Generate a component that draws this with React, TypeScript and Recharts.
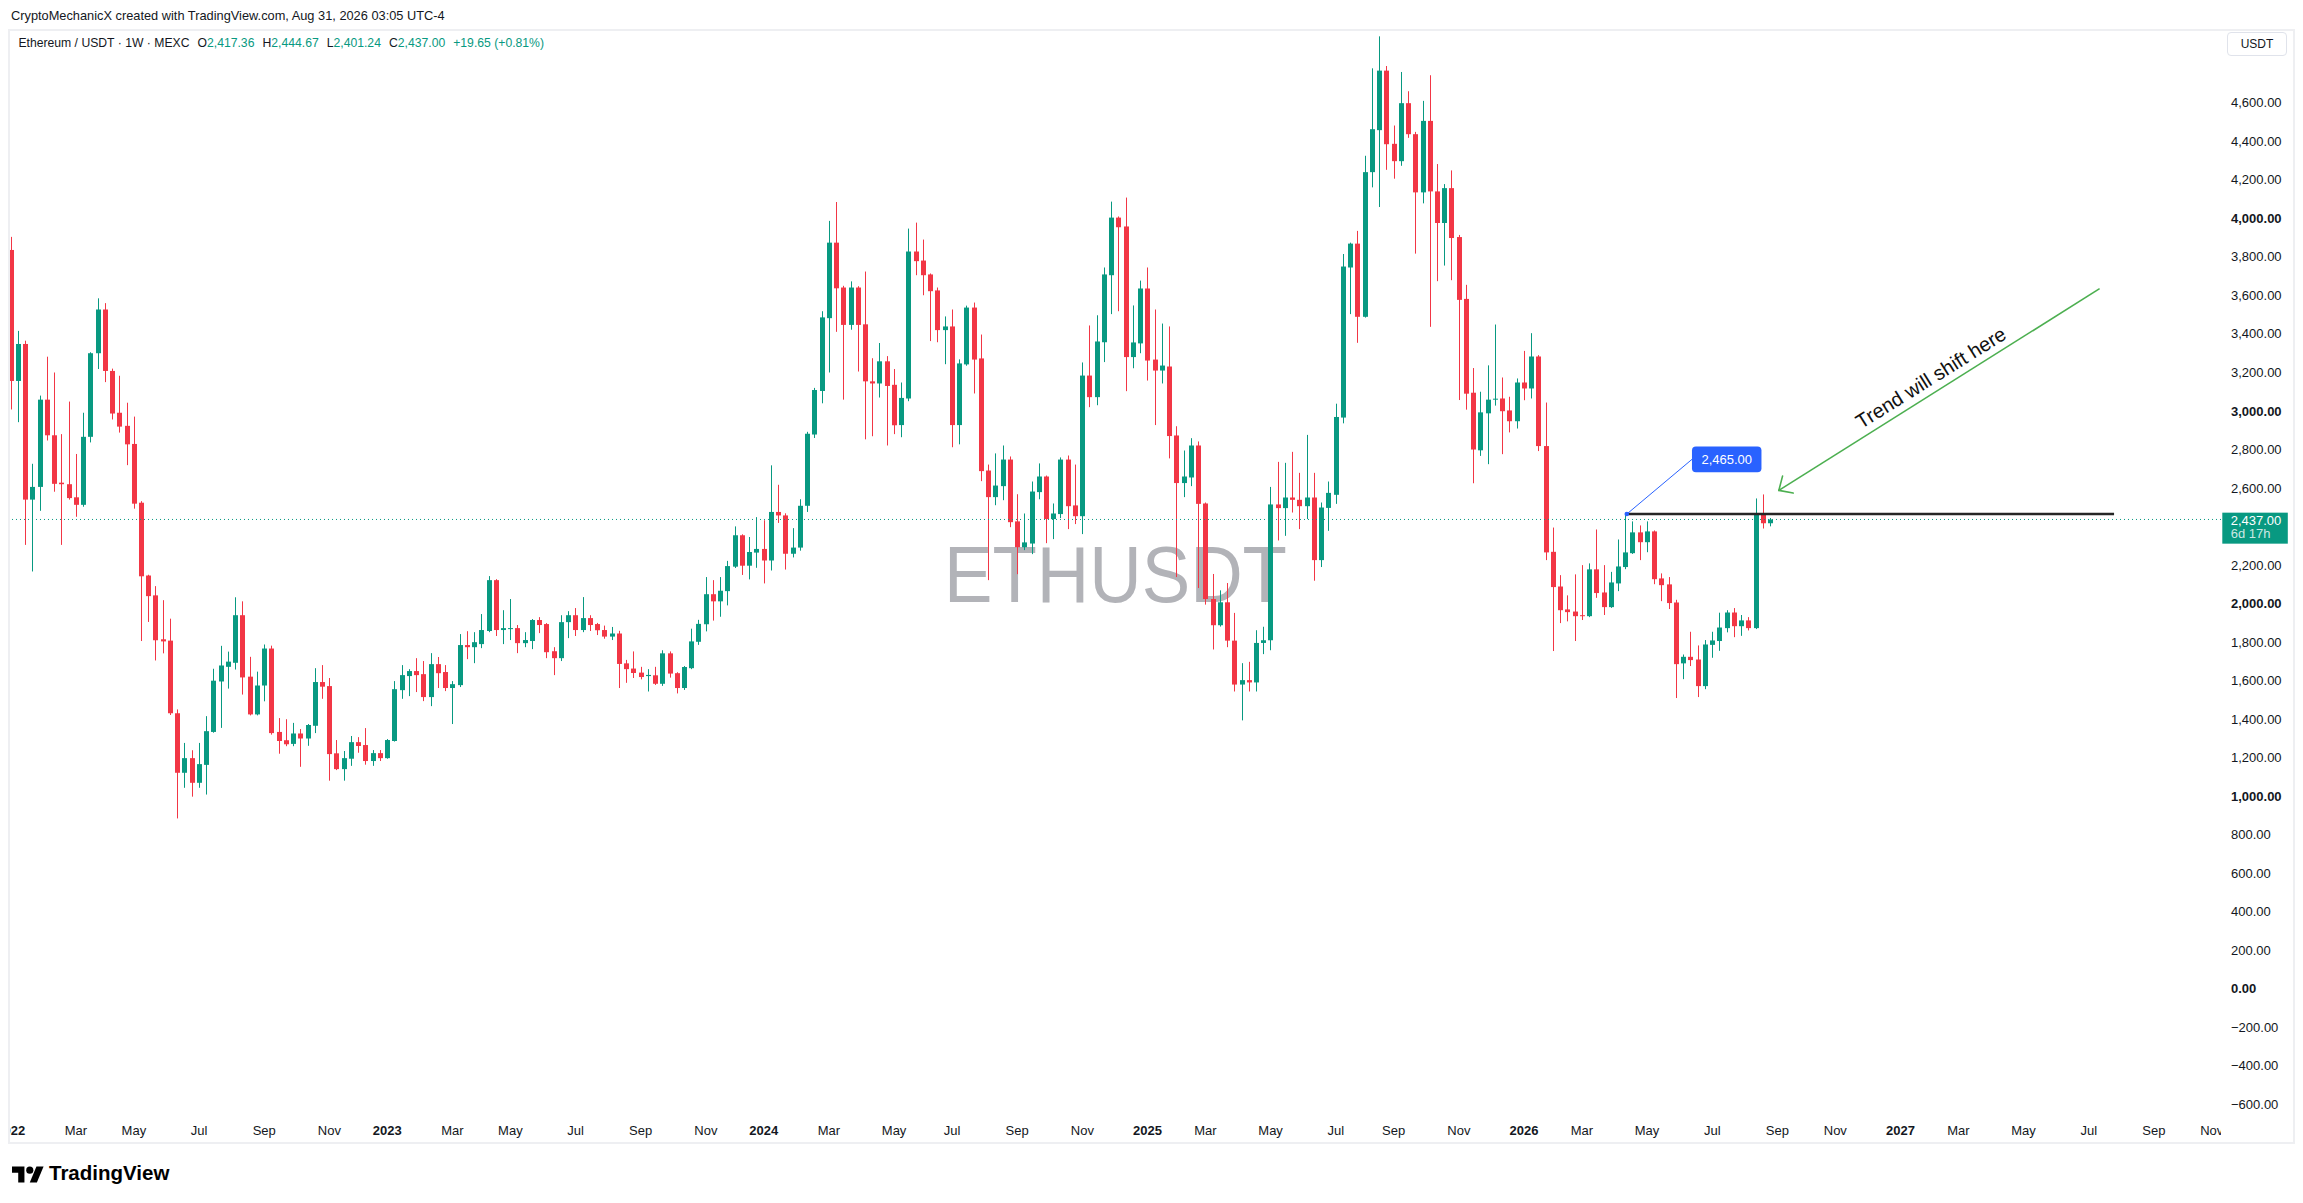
import React from 'react';
import { ComposedChart, Bar, XAxis, YAxis, ReferenceLine, ReferenceDot } from 'recharts';

// weekly candles, first bar = week of Jan 3 2022 (index = week number)
const opens = [
  3836, 3156, 3348, 2540, 2606, 3059, 2874, 2628, 2620, 2552,
  2513, 2866, 3300, 3527, 3208, 2991, 2923, 2829, 2524, 2146,
  2043, 1815, 1808, 1431, 1122, 1198, 1070, 1163, 1334, 1596,
  1672, 1693, 1940, 1621, 1425, 1575, 1767, 1334, 1291, 1272,
  1326, 1300, 1366, 1593, 1572, 1223, 1141, 1195, 1281, 1266,
  1183, 1224, 1198, 1287, 1551, 1624, 1650, 1634, 1515, 1686,
  1645, 1562, 1577, 1785, 1774, 1790, 1858, 2122, 1863, 1868,
  1873, 1795, 1806, 1915, 1894, 1753, 1717, 1904, 1940, 1863,
  1925, 1894, 1863, 1829, 1845, 1690, 1663, 1642, 1624, 1628,
  1584, 1742, 1639, 1562, 1665, 1802, 1893, 2049, 2012, 2065,
  2192, 2355, 2197, 2265, 2284, 2224, 2476, 2458, 2259, 2291,
  2508, 2878, 3104, 3482, 3874, 3641, 3447, 3641, 3450, 3154,
  3143, 3258, 3136, 2927, 3065, 3828, 3781, 3709, 3626, 3420,
  3439, 2927, 3242, 3537, 3273, 2691, 2553, 2610, 2748, 2427,
  2293, 2312, 2579, 2660, 2439, 2465, 2748, 2510, 2454, 3184,
  3072, 3357, 3705, 4004, 3958, 3280, 3351, 3636, 3267, 3210,
  3231, 2873, 2626, 2655, 2821, 2520, 2024, 1888, 2007, 1808,
  1580, 1603, 1591, 1796, 1810, 2515, 2496, 2551, 2539, 2506,
  2551, 2226, 2497, 2565, 2966, 3745, 3869, 3489, 4240, 4458,
  4767, 4387, 4297, 4598, 4437, 4135, 4506, 4140, 3976, 4157,
  3903, 3582, 3095, 2796, 2988, 3059, 3065, 3003, 2947, 3148,
  3117, 3283, 2818, 2269, 2089, 1970, 1959, 1940, 1935, 2178,
  2058, 1982, 2105, 2190, 2262, 2370, 2319, 2375, 2131, 2100,
  2006, 1690, 1724, 1710, 1572, 1786, 1806, 1873, 1954, 1883,
  1913, 1873, 2463, 2417.36,
];

const highs = [
  3904, 3416, 3365, 2726, 3080, 3282, 3200, 2880, 3049, 2777,
  2991, 3305, 3585, 3560, 3220, 3183, 3043, 2971, 2532, 2150,
  2091, 2018, 1922, 1451, 1277, 1239, 1277, 1416, 1662, 1781,
  1751, 2033, 2012, 1724, 1647, 1788, 1782, 1406, 1400, 1381,
  1349, 1375, 1665, 1681, 1614, 1292, 1235, 1313, 1307, 1354,
  1240, 1240, 1297, 1598, 1681, 1660, 1717, 1702, 1743, 1723,
  1681, 1598, 1842, 1857, 1852, 1946, 2143, 2127, 1966, 2024,
  1889, 1852, 1920, 1930, 1899, 1774, 1940, 1961, 1977, 2034,
  1940, 1900, 1886, 1879, 1859, 1708, 1752, 1672, 1660, 1672,
  1758, 1752, 1644, 1676, 1870, 1916, 2138, 2122, 2138, 2222,
  2401, 2360, 2346, 2449, 2433, 2718, 2617, 2469, 2392, 2542,
  2892, 3120, 3518, 3987, 4085, 3650, 3673, 3648, 3724, 3274,
  3353, 3285, 3218, 3148, 3947, 3978, 3890, 3714, 3641, 3491,
  3527, 3268, 3547, 3563, 3397, 2722, 2780, 2821, 2764, 2568,
  2468, 2634, 2728, 2665, 2520, 2759, 2769, 2722, 3252, 3444,
  3497, 3745, 4087, 4010, 4108, 3548, 3677, 3745, 3527, 3454,
  3439, 2921, 2795, 2859, 2842, 2525, 2154, 2069, 2107, 1952,
  1691, 1698, 1862, 1880, 2606, 2736, 2731, 2788, 2679, 2876,
  2679, 2525, 2634, 3038, 3815, 3874, 3935, 4325, 4779, 4945,
  4791, 4482, 4760, 4660, 4449, 4610, 4743, 4282, 4178, 4249,
  3914, 3655, 3223, 3100, 3237, 3449, 3174, 3074, 3169, 3312,
  3404, 3290, 3044, 2395, 2148, 2043, 2152, 2200, 2209, 2385,
  2200, 2165, 2333, 2468, 2427, 2406, 2427, 2380, 2157, 2138,
  2020, 1736, 1854, 1783, 1811, 1854, 1953, 1966, 1977, 1941,
  1930, 2546, 2567, 2444.67,
];

const lows = [
  3008, 2942, 2305, 2167, 2482, 2847, 2581, 2305, 2540, 2451,
  2503, 2837, 3218, 3150, 2956, 2888, 2719, 2493, 1806, 1905,
  1705, 1742, 1422, 885, 1044, 998, 1044, 1009, 1330, 1355,
  1559, 1658, 1528, 1420, 1420, 1493, 1320, 1221, 1260, 1260,
  1153, 1262, 1328, 1506, 1081, 1136, 1081, 1158, 1226, 1164,
  1158, 1183, 1195, 1284, 1506, 1520, 1541, 1494, 1468, 1562,
  1546, 1375, 1567, 1712, 1691, 1769, 1852, 1832, 1790, 1811,
  1743, 1774, 1764, 1847, 1717, 1629, 1702, 1821, 1832, 1852,
  1858, 1837, 1818, 1811, 1562, 1589, 1614, 1607, 1544, 1578,
  1573, 1616, 1534, 1552, 1660, 1786, 1856, 1912, 1932, 1991,
  2185, 2149, 2126, 2186, 2105, 2172, 2419, 2177, 2240, 2275,
  2476, 2860, 3040, 3200, 3411, 3059, 3422, 3205, 2853, 2869,
  3070, 2821, 2880, 2864, 3051, 3705, 3601, 3363, 3357, 3243,
  2812, 2827, 3235, 3091, 2636, 2122, 2511, 2537, 2397, 2153,
  2278, 2257, 2542, 2314, 2335, 2444, 2387, 2413, 2361, 3020,
  3030, 3254, 3503, 3518, 3103, 3222, 3300, 3158, 2927, 3143,
  2754, 2138, 2553, 2610, 2081, 1995, 1762, 1881, 1774, 1544,
  1394, 1544, 1544, 1738, 1758, 2328, 2352, 2473, 2387, 2439,
  2119, 2190, 2378, 2518, 2936, 3503, 3354, 3485, 4161, 4059,
  4252, 4206, 4273, 4418, 3817, 4078, 3437, 3674, 3755, 3679,
  3057, 3007, 2625, 2767, 2724, 3028, 2776, 2889, 2909, 3056,
  3065, 2792, 2226, 1754, 1899, 1908, 1806, 1915, 1930, 2030,
  1941, 1978, 2065, 2179, 2258, 2226, 2267, 2101, 2013, 1972,
  1510, 1608, 1676, 1515, 1556, 1719, 1755, 1851, 1826, 1833,
  1861, 1868, 2390, 2401.24,
];

const closes = [
  3156, 3348, 2540, 2606, 3059, 2874, 2622, 2620, 2548, 2513,
  2866, 3300, 3527, 3208, 2987, 2919, 2827, 2519, 2142, 2039,
  1810, 1804, 1431, 1122, 1198, 1070, 1167, 1338, 1600, 1679,
  1699, 1940, 1617, 1425, 1575, 1767, 1328, 1287, 1270, 1326,
  1300, 1370, 1593, 1569, 1219, 1141, 1198, 1281, 1261, 1183,
  1224, 1198, 1292, 1556, 1629, 1650, 1629, 1515, 1686, 1639,
  1562, 1582, 1785, 1774, 1800, 1863, 2122, 1863, 1873, 1873,
  1795, 1811, 1915, 1889, 1748, 1717, 1904, 1940, 1863, 1925,
  1889, 1862, 1829, 1845, 1687, 1660, 1640, 1619, 1630, 1584,
  1742, 1637, 1562, 1671, 1804, 1895, 2049, 2012, 2067, 2195,
  2355, 2197, 2268, 2284, 2224, 2476, 2458, 2259, 2291, 2508,
  2882, 3109, 3486, 3874, 3637, 3447, 3641, 3447, 3154, 3143,
  3258, 3130, 2926, 3068, 3828, 3778, 3705, 3622, 3420, 3439,
  2927, 3247, 3537, 3267, 2688, 2553, 2613, 2748, 2423, 2293,
  2318, 2582, 2660, 2439, 2468, 2748, 2506, 2454, 3184, 3072,
  3361, 3709, 4004, 3954, 3280, 3356, 3636, 3262, 3210, 3236,
  2870, 2626, 2660, 2821, 2518, 2024, 1888, 2007, 1808, 1580,
  1603, 1591, 1796, 1810, 2515, 2496, 2551, 2539, 2506, 2551,
  2226, 2499, 2575, 2969, 3750, 3869, 3489, 4240, 4463, 4767,
  4385, 4297, 4598, 4437, 4135, 4506, 4140, 3976, 4157, 3898,
  3577, 3090, 2800, 2993, 3059, 3064, 2999, 2947, 3148, 3117,
  3283, 2818, 2266, 2086, 1966, 1956, 1935, 1937, 2178, 2055,
  1982, 2110, 2193, 2266, 2370, 2319, 2375, 2127, 2096, 2003,
  1686, 1724, 1707, 1572, 1788, 1809, 1876, 1954, 1883, 1913,
  1873, 2463, 2417.35, 2437,
];

// first weekly bar of every second month
const monthTicks = [0, 9, 17, 26, 35, 44, 52, 61, 69, 78, 87, 96, 104, 113, 122, 130, 139, 148,
  157, 165, 174, 183, 191, 200, 209, 217, 226, 235, 244, 252, 261, 269, 278, 287, 296, 304];
const monthLabels = ['2022', 'Mar', 'May', 'Jul', 'Sep', 'Nov', '2023', 'Mar', 'May', 'Jul', 'Sep', 'Nov',
  '2024', 'Mar', 'May', 'Jul', 'Sep', 'Nov', '2025', 'Mar', 'May', 'Jul', 'Sep', 'Nov',
  '2026', 'Mar', 'May', 'Jul', 'Sep', 'Nov', '2027', 'Mar', 'May', 'Jul', 'Sep', 'Nov'];
// 2,400 is hidden behind the last-price tag
const priceTicks = [-600, -400, -200, 0, 200, 400, 600, 800, 1000, 1200, 1400, 1600, 1800, 2000, 2200,
  2600, 2800, 3000, 3200, 3400, 3600, 3800, 4000, 4200, 4400, 4600];

// drawings (x = week index, y = price)
const lastPrice = 2437;
const levelLine = [{ x: 223.2, y: 2465 }, { x: 290.5, y: 2465 }];
const calloutLine = [{ x: 223.2, y: 2465 }, { x: 232.2, y: 2749 }];
const trendArrow = [{ x: 288.5, y: 3635 }, { x: 244.2, y: 2588 }];
const trendText = { x: 265.2, y: 3173 };

const candles = opens.map((o, i) => ({
  i, o, h: highs[i], l: lows[i], c: closes[i], range: [lows[i], highs[i]],
}));

const UP = '#089981';
const DOWN = '#f23645';
const TEXT = '#131722';
const FONT = '"Liberation Sans", Arial, sans-serif';
const PLOT_L = 10;
const PLOT_R = 2221;

const fmt = (v: number) => {
  const s = Math.abs(v).toLocaleString('en-US', { minimumFractionDigits: 2, maximumFractionDigits: 2 });
  return v < 0 ? '\u2212' + s : s;
};

const Candle = (props: any) => {
  const { x, y, width, height, payload } = props;
  if (!payload) return null;
  const { o, h, l, c } = payload;
  const top = Math.min(y, y + height);
  const bot = Math.max(y, y + height);
  const k = (bot - top) / (h - l || 1);
  const yO = top + (h - o) * k;
  const yC = top + (h - c) * k;
  const cx = Math.round(x + width / 2);
  const color = c >= o ? UP : DOWN;
  const bTop = Math.min(yO, yC);
  const bH = Math.max(1, Math.abs(yC - yO));
  return (
    <g>
      <line x1={cx + 0.5} x2={cx + 0.5} y1={top} y2={bot} stroke={color} strokeWidth={1} />
      <rect x={cx - 2} y={bTop} width={5} height={bH} fill={color} />
    </g>
  );
};

const XTick = (p: any) => {
  const idx = monthTicks.indexOf(p.payload.value);
  const label = monthLabels[idx];
  const isYear = /^\d{4}$/.test(label);
  return (
    <g>
      <clipPath id={`xclip-${idx}`}>
        <rect x={PLOT_L} y={p.y - 4} width={PLOT_R - PLOT_L} height={32} />
      </clipPath>
      <text x={p.x} y={p.y + 14} textAnchor="middle" dominantBaseline="central" fontFamily={FONT}
        fontSize={13} fontWeight={isYear ? 700 : 400} fill={TEXT} clipPath={`url(#xclip-${idx})`}>
        {label}
      </text>
    </g>
  );
};

const YTick = (p: any) => {
  const v = p.payload.value;
  return (
    <text x={p.x} y={p.y} textAnchor="start" dominantBaseline="central" fontFamily={FONT}
      fontSize={13} fontWeight={v % 1000 === 0 ? 700 : 400} fill={TEXT}>
      {fmt(v)}
    </text>
  );
};

const PriceTag = (p: any) => {
  const { x, y, width } = p.viewBox;
  const left = x + width + 1.3;
  return (
    <g>
      <rect x={left} y={y - 6.8} width={65.5} height={31} fill={UP} />
      <text x={left + 8.4} y={y + 1.2} dominantBaseline="central" fontFamily={FONT} fontSize={13} fill="#fff">
        {fmt(lastPrice)}
      </text>
      <text x={left + 8.4} y={y + 14.5} dominantBaseline="central" fontFamily={FONT} fontSize={13}
        fill="#fff" fillOpacity={0.8}>
        6d 17h
      </text>
    </g>
  );
};

const Callout = (p: any) => (
  <g>
    <rect x={p.cx} y={p.cy - 12.9} width={69.5} height={25.8} rx={4} fill="#2962ff" />
    <text x={p.cx + 34.75} y={p.cy} textAnchor="middle" dominantBaseline="central" fontFamily={FONT}
      fontSize={13} fill="#fff">
      {fmt(levelLine[0].y)}
    </text>
  </g>
);

const ArrowHead = (p: any) => (
  <g stroke="#4caf50" strokeWidth={1.6} strokeLinecap="round" fill="none">
    <line x1={p.cx} y1={p.cy} x2={p.cx + 14.3} y2={p.cy + 2.7} />
    <line x1={p.cx} y1={p.cy} x2={p.cx + 3.7} y2={p.cy - 14.3} />
  </g>
);

const TrendLabel = (p: any) => (
  <text x={p.cx} y={p.cy} transform={`rotate(-32 ${p.cx} ${p.cy})`} textAnchor="middle"
    dominantBaseline="central" fontFamily={FONT} fontSize={20} fill="#111">
    Trend will shift here
  </text>
);

const TvLogo = () => (
  <svg viewBox="0 0 36 28" width={32} height={25} style={{ position: 'absolute', left: 11.5, top: 1162.5 }}>
    <path d="M14 22H7V11H0V4h14v18z" fill="#000" />
    <circle cx={20} cy={8} r={4} fill="#000" />
    <path d="M28 22h-8l7.5-18h8L28 22z" fill="#000" />
  </svg>
);

const App: React.FC = () => {
  const legendVal = { color: UP };
  return (
    <div style={{ position: 'absolute', left: 0, top: 0, width: 2303, height: 1203, background: '#fff', fontFamily: FONT, color: TEXT, overflow: 'hidden' }}>
      <div style={{ position: 'absolute', left: 8, top: 29, width: 2283, height: 1111, border: '2px solid #eeeff2' }} />
      <svg width={2303} height={1203} style={{ position: 'absolute', left: 0, top: 0 }}>
        <text x={1115.5} y={601.7} textAnchor="middle" fontFamily={FONT} fontSize={80} fill="#b2b3b8"
          textLength={343} lengthAdjust="spacingAndGlyphs">
          ETHUSDT
        </text>
      </svg>
      <div style={{ position: 'absolute', left: 0, top: 0 }}>
        <ComposedChart width={2303} height={1203} data={candles} margin={{ top: 31, right: 10, bottom: 61, left: 10 }}>
          <XAxis dataKey="i" type="number" domain={[-0.11, 305.27]} allowDataOverflow ticks={monthTicks}
            interval={0} axisLine={false} tickLine={false} tickSize={0} tickMargin={0} height={26}
            tick={(p: any) => <XTick {...p} />} />
          <YAxis orientation="right" type="number" domain={[-659.7, 4972.7]} allowDataOverflow ticks={priceTicks}
            interval={0} axisLine={false} tickLine={false} tickSize={0} tickMargin={10} width={72}
            tick={(p: any) => <YTick {...p} />} />
          <Bar dataKey="range" barSize={5} isAnimationActive={false} shape={(p: any) => <Candle {...p} />} />
          <ReferenceLine y={lastPrice} stroke={UP} strokeWidth={1} strokeDasharray="1 3" label={<PriceTag />} />
          <ReferenceLine segment={levelLine} stroke="#262626" strokeWidth={2.5} />
          <ReferenceLine segment={calloutLine} stroke="#2962ff" strokeWidth={1} />
          <ReferenceDot x={calloutLine[0].x} y={calloutLine[0].y} r={2.3} fill="#2962ff" stroke="none" />
          <ReferenceDot x={calloutLine[1].x} y={calloutLine[1].y} shape={(p: any) => <Callout {...p} />} />
          <ReferenceLine segment={trendArrow} stroke="#4caf50" strokeWidth={1.6} />
          <ReferenceDot x={trendArrow[1].x} y={trendArrow[1].y} shape={(p: any) => <ArrowHead {...p} />} />
          <ReferenceDot x={trendText.x} y={trendText.y} shape={(p: any) => <TrendLabel {...p} />} />
        </ComposedChart>
      </div>
      <div style={{ position: 'absolute', left: 11, top: 7, fontSize: 12.8, lineHeight: '17px', whiteSpace: 'nowrap' }}>
        CryptoMechanicX created with TradingView.com, Aug 31, 2026 03:05 UTC-4
      </div>
      <div style={{ position: 'absolute', left: 18.4, top: 34.5, fontSize: 12.2, lineHeight: '17px', whiteSpace: 'nowrap' }}>
        <span>Ethereum / USDT · 1W · MEXC</span>
        <span style={{ marginLeft: 8 }}>O<span style={legendVal}>2,417.36</span></span>
        <span style={{ marginLeft: 8 }}>H<span style={legendVal}>2,444.67</span></span>
        <span style={{ marginLeft: 8 }}>L<span style={legendVal}>2,401.24</span></span>
        <span style={{ marginLeft: 8 }}>C<span style={legendVal}>2,437.00</span></span>
        <span style={{ marginLeft: 8, color: UP }}>+19.65 (+0.81%)</span>
      </div>
      <div style={{ position: 'absolute', left: 2227, top: 32, width: 58, height: 22, border: '1px solid #e0e3eb', borderRadius: 4, fontSize: 12, lineHeight: '22px', textAlign: 'center' }}>
        USDT
      </div>
      <TvLogo />
      <div style={{ position: 'absolute', left: 49, top: 1163, fontSize: 20.5, fontWeight: 700, lineHeight: '20px', color: '#000' }}>
        TradingView
      </div>
    </div>
  );
};

export default App;
